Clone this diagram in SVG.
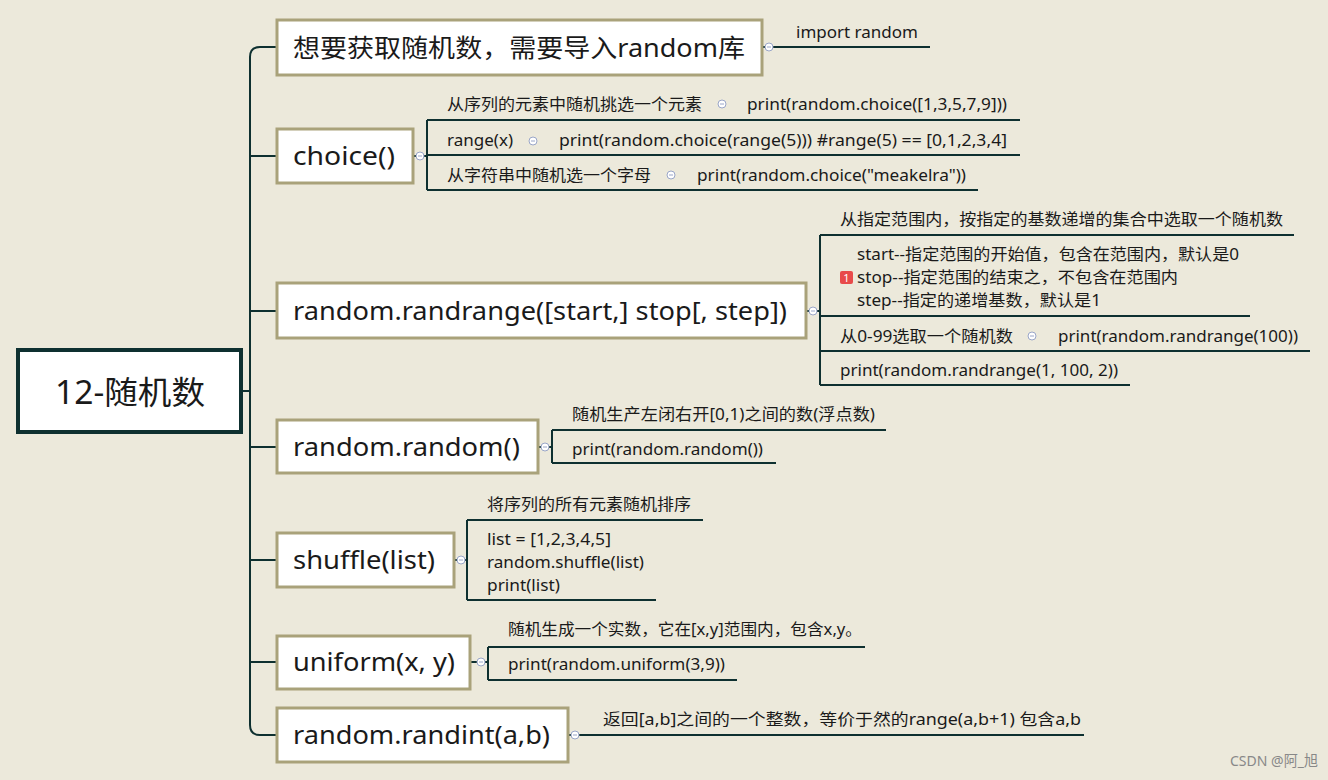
<svg xmlns="http://www.w3.org/2000/svg" width="1328" height="780" viewBox="0 0 1328 780">
<style>
text{font-family:"Noto Sans","Liberation Sans","Noto Sans CJK SC",sans-serif;fill:#1a1a1a}
.c{font-size:16px}
.n{font-size:25px}
.box{fill:#fff;stroke:#A9A27A;stroke-width:3}
.ln{stroke:#0E3030;stroke-width:2;fill:none}
.dot{fill:#fff;stroke:#9aa6c8;stroke-width:1}
</style>
<defs><g id="d"><circle class="dot" r="4"/><path d="M-2 0H2" stroke="#9aa6c8" stroke-width="1"/></g></defs>
<rect width="1328" height="780" fill="#ECE9DB"/>
<g id="connectors" class="ln">
<path d="M242 391H250"/>
<path d="M277 47H260Q250 47 250 57V725Q250 735 260 735H277"/>
<path d="M250 156H277M250 311H277M250 447H277M250 560H277M250 662H277"/>
<path d="M762 47H930"/>
<path d="M413 156H427M427 120V190M427 120H1020M427 155H1020M427 190H978"/>
<path d="M806 311H820M820 235V385M820 235H1294M820 316H1250M820 351H1310M820 385H1130"/>
<path d="M538 447H552M552 430V463M552 430H886M552 463H776"/>
<path d="M454 560H467M467 520V600M467 520H703M467 600H656"/>
<path d="M470 662H488M488 647V680M488 647H865M488 680H737"/>
<path d="M568 735H1084"/>
</g>
<g id="dots">
<use href="#d" x="769" y="47"/><use href="#d" x="420" y="156"/><use href="#d" x="813" y="311"/>
<use href="#d" x="545" y="447"/><use href="#d" x="461" y="560"/><use href="#d" x="481" y="662"/>
<use href="#d" x="575" y="735"/><use href="#d" x="722" y="104"/><use href="#d" x="533" y="141"/>
<use href="#d" x="671" y="175"/><use href="#d" x="1032" y="336"/>
</g>
<g id="root"><rect x="18" y="350" width="223" height="82" fill="#fff" stroke="#0E3030" stroke-width="4"/><text x="55" y="404" font-size="32" textLength="150" lengthAdjust="spacingAndGlyphs">12-随机数</text></g>
<g id="n1"><rect class="box" x="277" y="20" width="485" height="55"/><text class="n" x="293" y="57" textLength="452" lengthAdjust="spacingAndGlyphs">想要获取随机数，需要导入random库</text><text class="c" x="796" y="38" textLength="122" lengthAdjust="spacingAndGlyphs">import random</text></g>
<g id="n2"><rect class="box" x="277" y="129" width="136" height="54"/><text class="n" x="293" y="165" textLength="102" lengthAdjust="spacingAndGlyphs">choice()</text>
<text class="c" x="447" y="110" textLength="255" lengthAdjust="spacingAndGlyphs">从序列的元素中随机挑选一个元素</text><text class="c" x="747" y="110" textLength="260" lengthAdjust="spacingAndGlyphs">print(random.choice([1,3,5,7,9]))</text>
<text class="c" x="447" y="146" textLength="66" lengthAdjust="spacingAndGlyphs">range(x)</text><text class="c" x="559" y="146" textLength="448" lengthAdjust="spacingAndGlyphs">print(random.choice(range(5))) #range(5) == [0,1,2,3,4]</text>
<text class="c" x="447" y="181" textLength="204" lengthAdjust="spacingAndGlyphs">从字符串中随机选一个字母</text><text class="c" x="697" y="181" textLength="269" lengthAdjust="spacingAndGlyphs">print(random.choice("meakelra"))</text></g>
<g id="n3"><rect class="box" x="277" y="283" width="529" height="55"/><text class="n" x="293" y="320" textLength="494" lengthAdjust="spacingAndGlyphs">random.randrange([start,] stop[, step])</text>
<text class="c" x="840" y="225" textLength="443" lengthAdjust="spacingAndGlyphs">从指定范围内，按指定的基数递增的集合中选取一个随机数</text>
<text class="c" x="857" y="260" textLength="382" lengthAdjust="spacingAndGlyphs">start--指定范围的开始值，包含在范围内，默认是0</text>
<rect x="840" y="271" width="13" height="13" rx="2" fill="#E84B4B"/><text x="846.5" y="282" font-size="11" style="fill:#fff" text-anchor="middle">1</text>
<text class="c" x="857" y="283" textLength="321" lengthAdjust="spacingAndGlyphs">stop--指定范围的结束之，不包含在范围内</text>
<text class="c" x="857" y="306" textLength="244" lengthAdjust="spacingAndGlyphs">step--指定的递增基数，默认是1</text>
<text class="c" x="840" y="342" textLength="173" lengthAdjust="spacingAndGlyphs">从0-99选取一个随机数</text><text class="c" x="1058" y="342" textLength="240" lengthAdjust="spacingAndGlyphs">print(random.randrange(100))</text>
<text class="c" x="840" y="376" textLength="278" lengthAdjust="spacingAndGlyphs">print(random.randrange(1, 100, 2))</text></g>
<g id="n4"><rect class="box" x="277" y="420" width="261" height="53"/><text class="n" x="293" y="456" textLength="227" lengthAdjust="spacingAndGlyphs">random.random()</text>
<text class="c" x="572" y="420" textLength="303" lengthAdjust="spacingAndGlyphs">随机生产左闭右开[0,1)之间的数(浮点数)</text><text class="c" x="572" y="455" textLength="191" lengthAdjust="spacingAndGlyphs">print(random.random())</text></g>
<g id="n5"><rect class="box" x="277" y="533" width="177" height="54"/><text class="n" x="293" y="569" textLength="142" lengthAdjust="spacingAndGlyphs">shuffle(list)</text>
<text class="c" x="487" y="510" textLength="204" lengthAdjust="spacingAndGlyphs">将序列的所有元素随机排序</text><text class="c" x="487" y="545" textLength="124" lengthAdjust="spacingAndGlyphs">list = [1,2,3,4,5]</text><text class="c" x="487" y="568" textLength="157" lengthAdjust="spacingAndGlyphs">random.shuffle(list)</text><text class="c" x="487" y="591" textLength="73" lengthAdjust="spacingAndGlyphs">print(list)</text></g>
<g id="n6"><rect class="box" x="277" y="636" width="193" height="53"/><text class="n" x="293" y="671" textLength="162" lengthAdjust="spacingAndGlyphs">uniform(x, y)</text>
<text class="c" x="508" y="635" textLength="354" lengthAdjust="spacingAndGlyphs">随机生成一个实数，它在[x,y]范围内，包含x,y。</text><text class="c" x="508" y="670" textLength="217" lengthAdjust="spacingAndGlyphs">print(random.uniform(3,9))</text></g>
<g id="n7"><rect class="box" x="277" y="708" width="291" height="54"/><text class="n" x="293" y="744" textLength="257" lengthAdjust="spacingAndGlyphs">random.randint(a,b)</text>
<text class="c" x="603" y="725" textLength="478" lengthAdjust="spacingAndGlyphs">返回[a,b]之间的一个整数，等价于然的range(a,b+1)  包含a,b</text></g>
<text x="1230" y="766" font-size="15" textLength="88" lengthAdjust="spacingAndGlyphs" style="fill:#888">CSDN @阿_旭</text>
</svg>
